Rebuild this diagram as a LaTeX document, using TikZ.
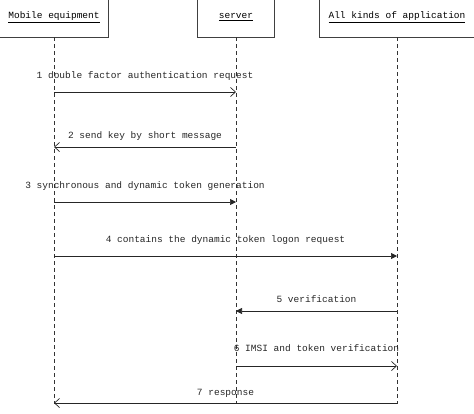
\documentclass[tikz,border=0pt]{standalone}
\usepackage{fontspec}
\setmainfont{Liberation Mono}
\usetikzlibrary{positioning,arrows.meta}

\begin{document}
\begin{tikzpicture}[x=1pt,y=1pt,node distance=182pt,on grid,
        font=\fontsize{9.5}{11}\selectfont,
        actor/.style={draw=black!75,line width=0.8pt,minimum height=40pt,inner sep=0pt},
        life/.style={draw=black!80,line width=0.7pt,dash pattern=on 4pt off 3pt},
        openmsg/.style={color=black!85,line width=0.7pt,-{Straight Barb[length=5pt,width=9pt]}},
        fullmsg/.style={color=black!85,line width=0.7pt,-{Triangle[length=6pt,width=6pt]}},
        lbl/.style={inner sep=0pt,text height=0.75em,text depth=0.25em}]
        \useasboundingbox (0,0) rectangle (474,-413);
        \node[actor,minimum width=109pt] (me) at (54,-17) {\underline{Mobile equipment}};
        \node[actor,minimum width=77pt] (sv) [right=of me] {\underline{server}};
        \node[actor,minimum width=156pt] (app) [right=161pt of sv] {\underline{All kinds of application}};
        \coordinate (end) at (0,-404);
        \coordinate (y_1) at (0,-92);
        \coordinate (y_2) at (0,-147);
        \coordinate (y_3) at (0,-202);
        \coordinate (y_4) at (0,-256);
        \coordinate (y_5) at (0,-311);
        \coordinate (y_6) at (0,-366);
        \coordinate (y_7) at (0,-403);
        \draw[life] (me.south) -- (me |- end);
        \draw[life] (sv.south) -- (sv |- end);
        \draw[life] (app.south) -- (app |- end);
        \path[openmsg]
        (me |- y_1) edge node[lbl,yshift=16pt] {1 double factor authentication request} (sv |- y_1)
        (sv |- y_2) edge node[lbl,yshift=11pt] {2 send key by short message} (me |- y_2)
        (sv |- y_6) edge node[lbl,yshift=17pt] {6 IMSI and token verification} (app |- y_6)
        (app |- y_7) edge node[lbl,yshift=10pt] {7 response} (me |- y_7);
        \path[fullmsg]
        (me |- y_3) edge node[lbl,yshift=16pt] {3 synchronous and dynamic token generation} (sv |- y_3)
        (me |- y_4) edge node[lbl,yshift=16pt] {4 contains the dynamic token logon request} (app |- y_4)
        (app |- y_5) edge node[lbl,yshift=11pt] {5 verification} (sv |- y_5);
\end{tikzpicture}
\end{document}
